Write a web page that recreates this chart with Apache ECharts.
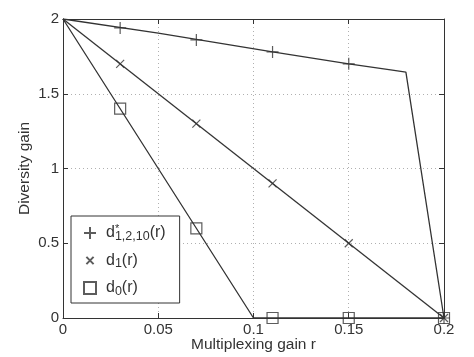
<!DOCTYPE html>
<html><head><meta charset="utf-8">
<script src="https://cdn.jsdelivr.net/npm/echarts@6/dist/echarts.min.js"></script>
<style>html,body{margin:0;padding:0;background:#fff}#c{width:474px;height:357px}</style>
</head><body><div id="c"></div>
<script>
// d*_{1,2,10}(r) curve and markers
var dStarLine = [[0,2],[0.05,1.905],[0.11,1.78],[0.15,1.70],[0.172,1.66],[0.18,1.645],[0.2,0]];
var dStarMarks = [[0.03,1.94],[0.07,1.86],[0.11,1.78],[0.15,1.70],[0.2,0]];
// d_1(r)
var d1Line = [[0,2],[0.2,0]];
var d1Marks = [[0.03,1.7],[0.07,1.3],[0.11,0.9],[0.15,0.5],[0.2,0]];
// d_0(r)
var d0Line = [[0,2],[0.1,0],[0.2,0]];
var d0Marks = [[0.03,1.4],[0.07,0.6],[0.11,0],[0.15,0],[0.2,0]];
var xTicks = ['0','0.05','0.1','0.15','0.2'];
var yTicks = ['0','0.5','1','1.5','2'];

var ink = '#333';
var font = 'Liberation Sans, Arial, sans-serif';
var plusPath = 'path://M0,5L10,5M5,0L5,10';
var crossPath = 'path://M0,0L10,10M10,0L0,10';
var crossSmall = 'path://M-4,-4L14,14M14,-4L-4,14M-10,-10L-10,-10M20,20L20,20';

function fmtX(v){ var i = Math.round(v/0.05); return xTicks[i] !== undefined ? xTicks[i] : ''; }
function fmtY(v){ var i = Math.round(v/0.5); return yTicks[i] !== undefined ? yTicks[i] : ''; }

var chart = echarts.init(document.getElementById('c'), null, {renderer:'canvas'});
var lineCommon = {type:'line', symbol:'none', lineStyle:{color:ink, width:1.3}, silent:true, z:2, animation:false};
var scatCommon = {type:'scatter', itemStyle:{color:'rgba(0,0,0,0)', borderColor:ink, borderWidth:1.2}, z:3, animation:false};

chart.setOption({
  animation:false,
  grid:{left:63, right:30, top:19, bottom:39, containLabel:false, outerBoundsMode:'none'},
  xAxis:[{
    type:'value', min:0, max:0.2, interval:0.05, position:'bottom',
    name:'Multiplexing gain r', nameLocation:'middle', nameGap:19, nameMoveOverlap:false,
    nameTextStyle:{fontFamily:font, fontSize:15.5, color:ink},
    axisLine:{show:true, onZero:false, lineStyle:{color:ink, width:1}},
    axisTick:{show:true, inside:true, length:5, lineStyle:{color:ink}},
    axisLabel:{fontFamily:font, fontSize:15, color:ink, margin:4, formatter:fmtX},
    splitLine:{show:true, lineStyle:{color:'#b0b0b0', type:[1,3], width:1}}
  },{
    type:'value', min:0, max:0.2, interval:0.05, position:'top',
    axisLine:{show:true, onZero:false, lineStyle:{color:ink, width:1}},
    axisTick:{show:true, inside:true, length:5, lineStyle:{color:ink}},
    axisLabel:{show:false}, splitLine:{show:false}
  }],
  yAxis:[{
    type:'value', min:0, max:2, interval:0.5, position:'left',
    name:'Diversity gain', nameLocation:'middle', nameGap:30, nameMoveOverlap:false,
    nameTextStyle:{fontFamily:font, fontSize:15.5, color:ink},
    axisLine:{show:true, onZero:false, lineStyle:{color:ink, width:1}},
    axisTick:{show:true, inside:true, length:5, lineStyle:{color:ink}},
    axisLabel:{fontFamily:font, fontSize:15, color:ink, margin:4, formatter:fmtY},
    splitLine:{show:true, lineStyle:{color:'#b0b0b0', type:[1,3], width:1}}
  },{
    type:'value', min:0, max:2, interval:0.5, position:'right',
    axisLine:{show:true, onZero:false, lineStyle:{color:ink, width:1}},
    axisTick:{show:true, inside:true, length:5, lineStyle:{color:ink}},
    axisLabel:{show:false}, splitLine:{show:false}
  }],
  legend:{
    orient:'vertical', left:71, top:216,
    padding:[7,14,5,12], itemGap:9.5, itemWidth:12, itemHeight:12,
    borderColor:ink, borderWidth:1, backgroundColor:'#fff',
    data:[
      {name:'dstar'},
      {name:'d1', icon:crossSmall},
      {name:'d0'}
    ],
    textStyle:{fontFamily:font, color:ink, fontSize:16, padding:[0,0,0,5],
      rich:{
        b:{fontFamily:font, fontSize:16, color:ink, lineHeight:20, verticalAlign:'middle'},
        sub:{fontFamily:font, fontSize:12.5, color:ink, lineHeight:8, verticalAlign:'bottom'},
        st:{fontFamily:font, fontSize:11, color:ink, lineHeight:6, verticalAlign:'top', width:0}
      }},
    formatter:function(n){
      if(n==='dstar') return '{b|d}{st|*}{sub|1,2,10}{b|(r)}';
      if(n==='d1') return '{b|d}{sub|1}{b|(r)}';
      return '{b|d}{sub|0}{b|(r)}';
    }
  },
  series:[
    Object.assign({name:'dstarLine', data:dStarLine}, lineCommon),
    Object.assign({name:'d1Line', data:d1Line}, lineCommon),
    Object.assign({name:'d0Line', data:d0Line}, lineCommon),
    Object.assign({name:'dstar', data:dStarMarks, symbol:plusPath, symbolSize:12}, scatCommon),
    Object.assign({name:'d1', data:d1Marks, symbol:crossPath, symbolSize:8}, scatCommon),
    Object.assign({name:'d0', data:d0Marks, symbol:'rect', symbolSize:11}, scatCommon)
  ]
});
</script></body></html>
